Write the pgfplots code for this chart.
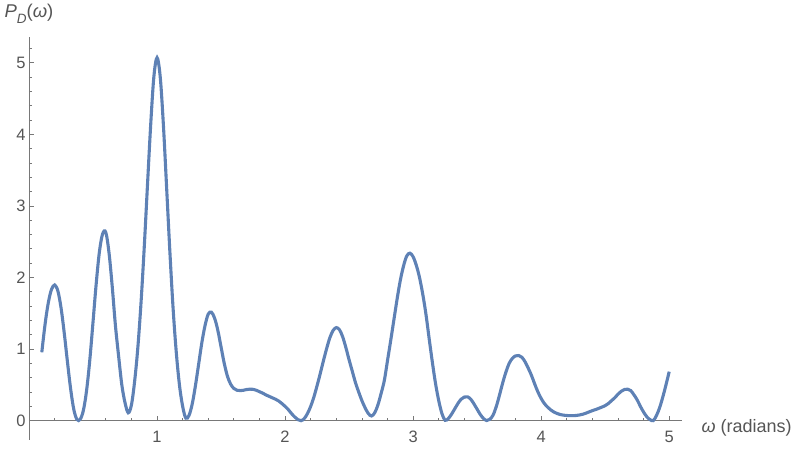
\documentclass[border=0pt]{standalone}
\usepackage{fontspec}
\setmainfont{Liberation Sans}
\usepackage{pgfplots}
\pgfplotsset{compat=1.18}
\definecolor{curve}{rgb}{0.368417,0.506779,0.709798}
\definecolor{axc}{RGB}{120,120,120}
\definecolor{txt}{RGB}{85,85,85}
\begin{document}
\begin{tikzpicture}
\useasboundingbox (-29pt,-12pt) rectangle (771pt,440pt);
\begin{axis}[
  at={(0pt,0pt)}, anchor=south west,
  scale only axis, width=653pt, height=403pt,
  axis lines=middle,
  axis line style={-, draw=axc, line width=0.8pt},
  xmin=0, xmax=5.1, ymin=-0.27, ymax=5.36,
  xtick={1,2,3,4,5}, ytick={0,1,2,3,4,5},
  minor xtick={0.2,0.4,0.6,0.8,1.2,1.4,1.6,1.8,2.2,2.4,2.6,2.8,3.2,3.4,3.6,3.8,4.2,4.4,4.6,4.8},
  minor ytick={0.2,0.4,0.6,0.8,1.2,1.4,1.6,1.8,2.2,2.4,2.6,2.8,3.2,3.4,3.6,3.8,4.2,4.4,4.6,4.8,5.2},
  tick align=inside,
  major tick length=5pt, minor tick length=3pt,
  tick style={draw=axc, line width=0.8pt},
  /pgf/number format/assume math mode=true,
  hide obscured y ticks=false,
  ticklabel style={font=\fontsize{16.5}{18}\selectfont, text=txt},
  xticklabel style={yshift=-7pt},
  xlabel={\textit{ω} (radians)},
  xlabel style={at={(axis description cs:1,0.04796)}, anchor=base west, xshift=16pt, yshift=-12pt, font=\fontsize{18}{20}\selectfont, text=txt},
  ylabel={\textit{P}\raisebox{-0.28em}{\fontsize{13.5}{14}\selectfont\textit{D}}(\textit{ω})},
  ylabel style={at={(axis description cs:0,1)}, anchor=base, rotate=0, yshift=19pt, font=\fontsize{18.5}{20}\selectfont, text=txt},
  clip=false,
]
\addplot[curve, line width=3.1pt, smooth, tension=0.55] coordinates {
(0.100,0.955) (0.125,1.34) (0.150,1.64) (0.175,1.83) (0.200,1.895)
(0.225,1.815) (0.250,1.58) (0.275,1.228) (0.300,0.826) (0.325,0.446) (0.350,0.156) (0.375,0.015)
(0.400,0.019) (0.425,0.146) (0.450,0.425) (0.475,0.85) (0.500,1.378) (0.525,1.916) (0.550,2.36) (0.575,2.61)
(0.600,2.63) (0.625,2.345) (0.650,1.874) (0.675,1.33) (0.700,0.90) (0.725,0.50) (0.750,0.25) (0.775,0.11)
(0.800,0.22) (0.825,0.55) (0.850,1.02) (0.875,1.65) (0.900,2.42) (0.925,3.28) (0.950,4.12) (0.975,4.80) (1.000,5.07)
(1.025,4.80) (1.050,4.12) (1.075,3.25) (1.100,2.37) (1.125,1.58) (1.150,0.96) (1.175,0.50) (1.200,0.20) (1.225,0.035)
(1.250,0.075) (1.275,0.235) (1.300,0.49) (1.325,0.79) (1.350,1.09) (1.375,1.33) (1.400,1.49) (1.425,1.515)
(1.450,1.43) (1.475,1.26) (1.500,1.03) (1.525,0.80) (1.550,0.62) (1.575,0.51) (1.600,0.45) (1.625,0.425) (1.650,0.42)
(1.675,0.425) (1.700,0.435) (1.725,0.44) (1.750,0.438) (1.775,0.425) (1.800,0.405) (1.825,0.385) (1.850,0.36) (1.875,0.34)
(1.900,0.32) (1.925,0.30) (1.950,0.275) (1.975,0.24) (2.000,0.20) (2.025,0.155) (2.050,0.10) (2.075,0.052) (2.100,0.015) (2.125,0.00)
(2.150,0.03) (2.175,0.10) (2.200,0.20) (2.225,0.33) (2.250,0.49) (2.275,0.66) (2.300,0.84) (2.325,1.01) (2.350,1.16) (2.375,1.26) (2.400,1.30)
(2.425,1.27) (2.450,1.17) (2.475,1.02) (2.500,0.85) (2.525,0.69) (2.550,0.53) (2.575,0.40) (2.600,0.28) (2.625,0.18) (2.650,0.10) (2.675,0.066)
(2.700,0.11) (2.725,0.22) (2.750,0.38) (2.775,0.56) (2.800,0.84) (2.825,1.12) (2.850,1.41) (2.875,1.70) (2.900,1.96) (2.925,2.16) (2.950,2.30) (2.975,2.34)
(3.000,2.29) (3.025,2.17) (3.050,2.00) (3.075,1.77) (3.100,1.49) (3.125,1.15) (3.150,0.82) (3.175,0.52) (3.200,0.28) (3.225,0.10) (3.250,0.005)
(3.275,0.03) (3.300,0.09) (3.325,0.165) (3.350,0.24) (3.375,0.30) (3.400,0.33) (3.425,0.333) (3.450,0.30) (3.475,0.235)
(3.500,0.16) (3.525,0.085) (3.550,0.03) (3.575,0.002)
(3.600,0.02) (3.625,0.08) (3.650,0.20) (3.675,0.36) (3.700,0.53) (3.725,0.68) (3.750,0.80) (3.775,0.87) (3.800,0.905) (3.825,0.91)
(3.850,0.885) (3.875,0.82) (3.900,0.73) (3.925,0.63) (3.950,0.51) (3.975,0.40) (4.000,0.31) (4.025,0.24) (4.050,0.19) (4.075,0.15)
(4.100,0.12) (4.125,0.10) (4.150,0.085) (4.175,0.077) (4.200,0.072) (4.225,0.07) (4.250,0.07) (4.275,0.073) (4.300,0.08)
(4.325,0.09) (4.350,0.105) (4.375,0.123) (4.400,0.14) (4.425,0.155) (4.450,0.172) (4.475,0.19) (4.500,0.21) (4.525,0.24)
(4.550,0.28) (4.575,0.32) (4.600,0.37) (4.625,0.41) (4.650,0.435) (4.675,0.44) (4.700,0.42) (4.725,0.36)
(4.750,0.29) (4.775,0.20) (4.800,0.12) (4.825,0.055) (4.850,0.015) (4.875,0.00) (4.900,0.07) (4.925,0.18) (4.950,0.33)
(4.975,0.50) (5.000,0.685)
};
\end{axis}
\end{tikzpicture}
\end{document}
